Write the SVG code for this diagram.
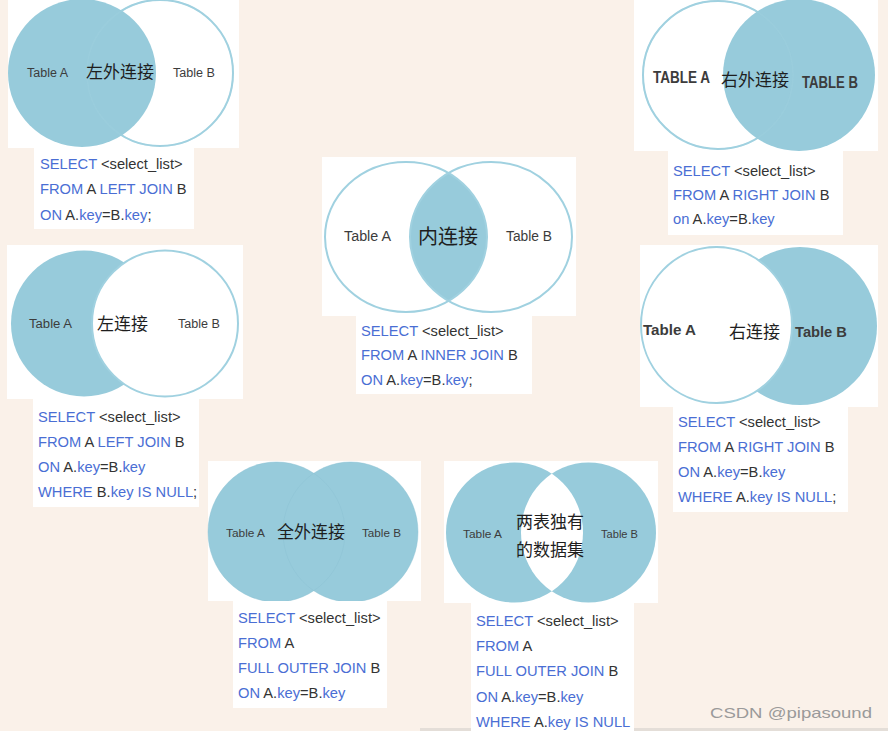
<svg xmlns="http://www.w3.org/2000/svg" width="888" height="731" viewBox="0 0 888 731">
<style>
.card{fill:#ffffff}
.ring{fill:none;stroke:#A0D1E0;stroke-width:2}
.faint{fill:none;stroke:#A0D1E0;stroke-width:1.5;stroke-opacity:0.35}
.fl{fill:#97CBDB}
.wh{fill:#ffffff}
.lbl{font-family:"Liberation Sans","Noto Sans",sans-serif;fill:#3c3c3c;text-anchor:start}
.cjk{font-family:"Noto Sans CJK SC","Noto Sans",sans-serif;fill:#1e1e1e;font-size:17px}
.code{font-family:"Liberation Sans","Noto Sans",sans-serif;font-size:14.7px;fill:#333333}
.k{fill:#4A6ED4}
</style>
<defs>
<clipPath id="clipA3"><ellipse cx="406" cy="237" rx="81" ry="75"/></clipPath>
<clipPath id="clipA7"><ellipse cx="514.5" cy="532.5" rx="68.5" ry="70"/></clipPath>
</defs>
<rect width="888" height="731" fill="#FAF1E9"/>
<rect x="420" y="728" width="468" height="3" fill="#E4DED8"/>

<g id="left-outer-join">
<rect class="card" x="8" y="0" width="231" height="148"/>
<circle class="ring" cx="160" cy="73" r="73"/>
<circle class="fl" cx="82" cy="73" r="74"/>
<circle class="faint" cx="160" cy="73" r="73"/>
<text class="lbl" x="27" y="76.5" font-size="12.5" textLength="41" lengthAdjust="spacingAndGlyphs">Table A</text>
<text class="cjk" x="86" y="78">左外连接</text>
<text class="lbl" x="173" y="76.5" font-size="12.5" textLength="42" lengthAdjust="spacingAndGlyphs" fill="#4a4a4a">Table B</text>
<rect class="card" x="34" y="148" width="160" height="81"/>
<text class="code" x="40" y="169"><tspan class="k">SELECT</tspan> &lt;select_list&gt;</text>
<text class="code" x="40" y="194"><tspan class="k">FROM</tspan> A <tspan class="k">LEFT JOIN</tspan> B</text>
<text class="code" x="40" y="219.5"><tspan class="k">ON</tspan> A.<tspan class="k">key</tspan>=B.<tspan class="k">key</tspan>;</text>
</g>

<g id="right-outer-join">
<rect class="card" x="634" y="0" width="244" height="151"/>
<ellipse class="ring" cx="718" cy="75" rx="75" ry="74"/>
<circle class="fl" cx="799" cy="75" r="76"/>
<ellipse class="faint" cx="718" cy="75" rx="75" ry="74"/>
<text class="lbl" x="653" y="83" font-size="16" font-weight="bold" textLength="57" lengthAdjust="spacingAndGlyphs">TABLE A</text>
<text class="cjk" x="721" y="86">右外连接</text>
<text class="lbl" x="802" y="87.5" font-size="16" font-weight="bold" textLength="56" lengthAdjust="spacingAndGlyphs">TABLE B</text>
<rect class="card" x="668" y="151" width="175" height="84"/>
<text class="code" x="673" y="175.5"><tspan class="k">SELECT</tspan> &lt;select_list&gt;</text>
<text class="code" x="673" y="199.5"><tspan class="k">FROM</tspan> A <tspan class="k">RIGHT JOIN</tspan> B</text>
<text class="code" x="673" y="224"><tspan class="k">on</tspan> A.<tspan class="k">key</tspan>=B.<tspan class="k">key</tspan></text>
</g>

<g id="inner-join">
<rect class="card" x="322" y="157" width="254" height="159"/>
<ellipse class="fl" cx="491" cy="237" rx="81" ry="75" clip-path="url(#clipA3)"/>
<ellipse class="ring" cx="406" cy="237" rx="81" ry="75"/>
<ellipse class="ring" cx="491" cy="237" rx="81" ry="75"/>
<text class="lbl" x="344" y="241" font-size="14" textLength="47" lengthAdjust="spacingAndGlyphs">Table A</text>
<text class="cjk" x="418" y="243.5" style="font-size:20px">内连接</text>
<text class="lbl" x="506" y="241" font-size="14" textLength="46" lengthAdjust="spacingAndGlyphs">Table B</text>
<rect class="card" x="356" y="316" width="176" height="78"/>
<text class="code" x="361" y="335.5"><tspan class="k">SELECT</tspan> &lt;select_list&gt;</text>
<text class="code" x="361" y="360"><tspan class="k">FROM</tspan> A <tspan class="k">INNER JOIN</tspan> B</text>
<text class="code" x="361" y="385"><tspan class="k">ON</tspan> A.<tspan class="k">key</tspan>=B.<tspan class="k">key</tspan>;</text>
</g>

<g id="left-join">
<rect class="card" x="7" y="245" width="236" height="154"/>
<circle class="fl" cx="84" cy="323.5" r="73"/>
<circle class="wh" cx="165" cy="323.5" r="73"/>
<circle class="ring" cx="165" cy="323.5" r="73"/>
<text class="lbl" x="29" y="328" font-size="12.5" textLength="43" lengthAdjust="spacingAndGlyphs">Table A</text>
<text class="cjk" x="97" y="329.5">左连接</text>
<text class="lbl" x="178" y="328" font-size="12.5" textLength="42" lengthAdjust="spacingAndGlyphs" fill="#4a4a4a">Table B</text>
<rect class="card" x="33" y="399" width="166" height="108"/>
<text class="code" x="38" y="421.5"><tspan class="k">SELECT</tspan> &lt;select_list&gt;</text>
<text class="code" x="38" y="446.5"><tspan class="k">FROM</tspan> A <tspan class="k">LEFT JOIN</tspan> B</text>
<text class="code" x="38" y="472"><tspan class="k">ON</tspan> A.<tspan class="k">key</tspan>=B.<tspan class="k">key</tspan></text>
<text class="code" x="38" y="497"><tspan class="k">WHERE</tspan> B.<tspan class="k">key IS NULL</tspan>;</text>
</g>

<g id="right-join">
<rect class="card" x="640" y="245" width="238" height="162"/>
<ellipse class="fl" cx="800" cy="326" rx="77" ry="79"/>
<ellipse class="wh" cx="716.5" cy="325" rx="75.5" ry="78"/>
<ellipse class="ring" cx="716.5" cy="325" rx="75.5" ry="78"/>
<text class="lbl" x="643" y="335" font-size="15" font-weight="bold" textLength="53" lengthAdjust="spacingAndGlyphs">Table A</text>
<text class="cjk" x="729" y="337.5">右连接</text>
<text class="lbl" x="795" y="337" font-size="15" font-weight="bold" textLength="52" lengthAdjust="spacingAndGlyphs">Table B</text>
<rect class="card" x="673" y="407" width="175" height="105"/>
<text class="code" x="678" y="427"><tspan class="k">SELECT</tspan> &lt;select_list&gt;</text>
<text class="code" x="678" y="452"><tspan class="k">FROM</tspan> A <tspan class="k">RIGHT JOIN</tspan> B</text>
<text class="code" x="678" y="477"><tspan class="k">ON</tspan> A.<tspan class="k">key</tspan>=B.<tspan class="k">key</tspan></text>
<text class="code" x="678" y="502"><tspan class="k">WHERE</tspan> A.<tspan class="k">key IS NULL</tspan>;</text>
</g>

<g id="full-outer-join">
<rect class="card" x="208" y="461" width="213" height="140"/>
<ellipse class="fl" cx="276.5" cy="532" rx="68.5" ry="70"/>
<ellipse class="fl" cx="350.5" cy="532" rx="67.5" ry="70"/>
<ellipse fill="none" stroke="#8CC2D2" stroke-width="1" stroke-opacity="0.45" cx="276.5" cy="532" rx="68.5" ry="70"/>
<ellipse fill="none" stroke="#8CC2D2" stroke-width="1" stroke-opacity="0.45" cx="350.5" cy="532" rx="67.5" ry="70"/>
<text class="lbl" x="226" y="536.5" font-size="11.5" textLength="39" lengthAdjust="spacingAndGlyphs">Table A</text>
<text class="cjk" x="277" y="537.5">全外连接</text>
<text class="lbl" x="362" y="536.5" font-size="11.5" textLength="39" lengthAdjust="spacingAndGlyphs">Table B</text>
<rect class="card" x="233" y="601" width="154" height="107"/>
<text class="code" x="238" y="623"><tspan class="k">SELECT</tspan> &lt;select_list&gt;</text>
<text class="code" x="238" y="648"><tspan class="k">FROM</tspan> A</text>
<text class="code" x="238" y="673"><tspan class="k">FULL OUTER JOIN</tspan> B</text>
<text class="code" x="238" y="698"><tspan class="k">ON</tspan> A.<tspan class="k">key</tspan>=B.<tspan class="k">key</tspan></text>
</g>

<g id="exclusive-join">
<rect class="card" x="444" y="461" width="214" height="142"/>
<ellipse class="fl" cx="514.5" cy="532.5" rx="68.5" ry="70"/>
<ellipse class="fl" cx="588.5" cy="532.5" rx="67.5" ry="70"/>
<ellipse class="wh" cx="588.5" cy="532.5" rx="67.5" ry="70" clip-path="url(#clipA7)"/>
<text class="lbl" x="463" y="538" font-size="11.5" textLength="39" lengthAdjust="spacingAndGlyphs">Table A</text>
<text class="cjk" x="516" y="527.5">两表独有</text>
<text class="cjk" x="516" y="556">的数据集</text>
<text class="lbl" x="601" y="538" font-size="11.5" textLength="37" lengthAdjust="spacingAndGlyphs">Table B</text>
<rect class="card" x="471" y="603" width="163" height="128"/>
<text class="code" x="476" y="625.5"><tspan class="k">SELECT</tspan> &lt;select_list&gt;</text>
<text class="code" x="476" y="650.5"><tspan class="k">FROM</tspan> A</text>
<text class="code" x="476" y="675.5"><tspan class="k">FULL OUTER JOIN</tspan> B</text>
<text class="code" x="476" y="701.5"><tspan class="k">ON</tspan> A.<tspan class="k">key</tspan>=B.<tspan class="k">key</tspan></text>
<text class="code" x="476" y="726.5"><tspan class="k">WHERE</tspan> A.<tspan class="k">key IS NULL</tspan></text>
</g>

<g id="connectors"/>

<text x="710" y="717.5" font-family="Liberation Sans, sans-serif" font-size="15" fill="#9a9a9a" textLength="162" lengthAdjust="spacingAndGlyphs">CSDN @pipasound</text>
</svg>
